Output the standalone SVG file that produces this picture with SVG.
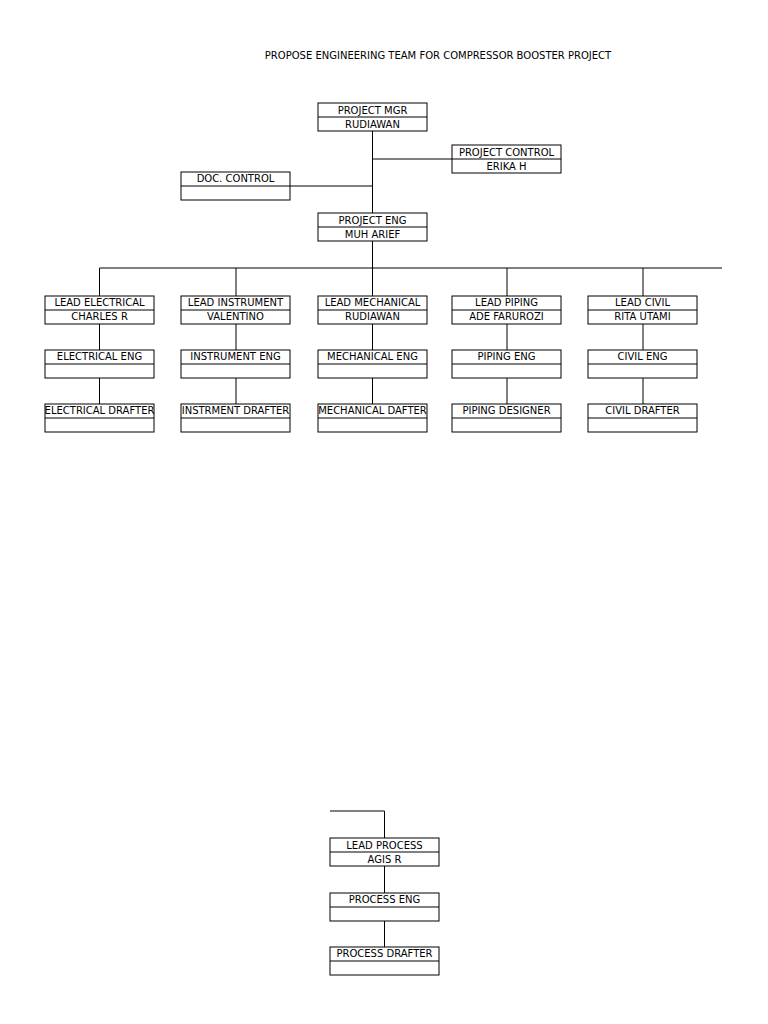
<svg xmlns="http://www.w3.org/2000/svg" width="768" height="1024" viewBox="0 0 768 1024">
<style>
rect{fill:#fff;stroke:#000;stroke-width:1}
line{stroke:#000;stroke-width:1}
text{font-family:"DejaVu Sans",sans-serif;font-size:10px;text-anchor:middle;fill:#000}
</style>
<defs>
<g id="b"><rect x="0" y="0" width="109" height="28"/><line x1="0" y1="14" x2="109" y2="14"/></g>
</defs>
<rect x="0" y="0" width="768" height="1024" style="stroke:none"/>
<text x="438" y="59">PROPOSE ENGINEERING  TEAM FOR COMPRESSOR BOOSTER PROJECT</text>
<g id="connectors">
<line x1="372.5" y1="131" x2="372.5" y2="213"/>
<line x1="372.5" y1="159" x2="452" y2="159"/>
<line x1="290" y1="186" x2="372.5" y2="186"/>
<line x1="372.5" y1="241" x2="372.5" y2="268"/>
<line x1="99.5" y1="268" x2="722" y2="268"/>
<line x1="99.5" y1="268" x2="99.5" y2="404"/>
<line x1="236" y1="268" x2="236" y2="404"/>
<line x1="372.5" y1="268" x2="372.5" y2="404"/>
<line x1="507" y1="268" x2="507" y2="404"/>
<line x1="643" y1="268" x2="643" y2="404"/>
<line x1="330" y1="811" x2="384.5" y2="811"/>
<line x1="384.5" y1="811" x2="384.5" y2="947"/>
</g>
<g id="pm"><use href="#b" x="318" y="103"/><text x="372.5" y="114">PROJECT MGR</text><text x="372.5" y="128">RUDIAWAN</text></g>
<g id="pc"><use href="#b" x="452" y="145"/><text x="506.5" y="156">PROJECT CONTROL</text><text x="506.5" y="170">ERIKA H</text></g>
<g id="dc"><use href="#b" x="181" y="172"/><text x="235.5" y="182">DOC. CONTROL</text></g>
<g id="pe"><use href="#b" x="318" y="213"/><text x="372.5" y="224">PROJECT ENG</text><text x="372.5" y="238">MUH ARIEF</text></g>
<g id="le"><use href="#b" x="45" y="296"/><text x="99.5" y="306">LEAD ELECTRICAL</text><text x="99.5" y="320">CHARLES R</text></g>
<g id="li"><use href="#b" x="181" y="296"/><text x="235.5" y="306">LEAD INSTRUMENT</text><text x="235.5" y="320">VALENTINO</text></g>
<g id="lm"><use href="#b" x="318" y="296"/><text x="372.5" y="306">LEAD MECHANICAL</text><text x="372.5" y="320">RUDIAWAN</text></g>
<g id="lp"><use href="#b" x="452" y="296"/><text x="506.5" y="306">LEAD PIPING</text><text x="506.5" y="320">ADE FARUROZI</text></g>
<g id="lc"><use href="#b" x="588" y="296"/><text x="642.5" y="306">LEAD CIVIL</text><text x="642.5" y="320">RITA UTAMI</text></g>
<g id="ee"><use href="#b" x="45" y="350"/><text x="99.5" y="360">ELECTRICAL ENG</text></g>
<g id="ie"><use href="#b" x="181" y="350"/><text x="235.5" y="360">INSTRUMENT ENG</text></g>
<g id="me"><use href="#b" x="318" y="350"/><text x="372.5" y="360">MECHANICAL ENG</text></g>
<g id="pie"><use href="#b" x="452" y="350"/><text x="506.5" y="360">PIPING ENG</text></g>
<g id="ce"><use href="#b" x="588" y="350"/><text x="642.5" y="360">CIVIL ENG</text></g>
<g id="ed"><use href="#b" x="45" y="404"/><text x="99.5" y="414">ELECTRICAL DRAFTER</text></g>
<g id="id"><use href="#b" x="181" y="404"/><text x="235.5" y="414">INSTRMENT DRAFTER</text></g>
<g id="md"><use href="#b" x="318" y="404"/><text x="372.5" y="414">MECHANICAL DAFTER</text></g>
<g id="pd"><use href="#b" x="452" y="404"/><text x="506.5" y="414">PIPING DESIGNER</text></g>
<g id="cd"><use href="#b" x="588" y="404"/><text x="642.5" y="414">CIVIL DRAFTER</text></g>
<g id="lpr"><use href="#b" x="330" y="838"/><text x="384.5" y="849">LEAD PROCESS</text><text x="384.5" y="863">AGIS R</text></g>
<g id="pre"><use href="#b" x="330" y="893"/><text x="384.5" y="903">PROCESS ENG</text></g>
<g id="prd"><use href="#b" x="330" y="947"/><text x="384.5" y="957">PROCESS DRAFTER</text></g>
</svg>
